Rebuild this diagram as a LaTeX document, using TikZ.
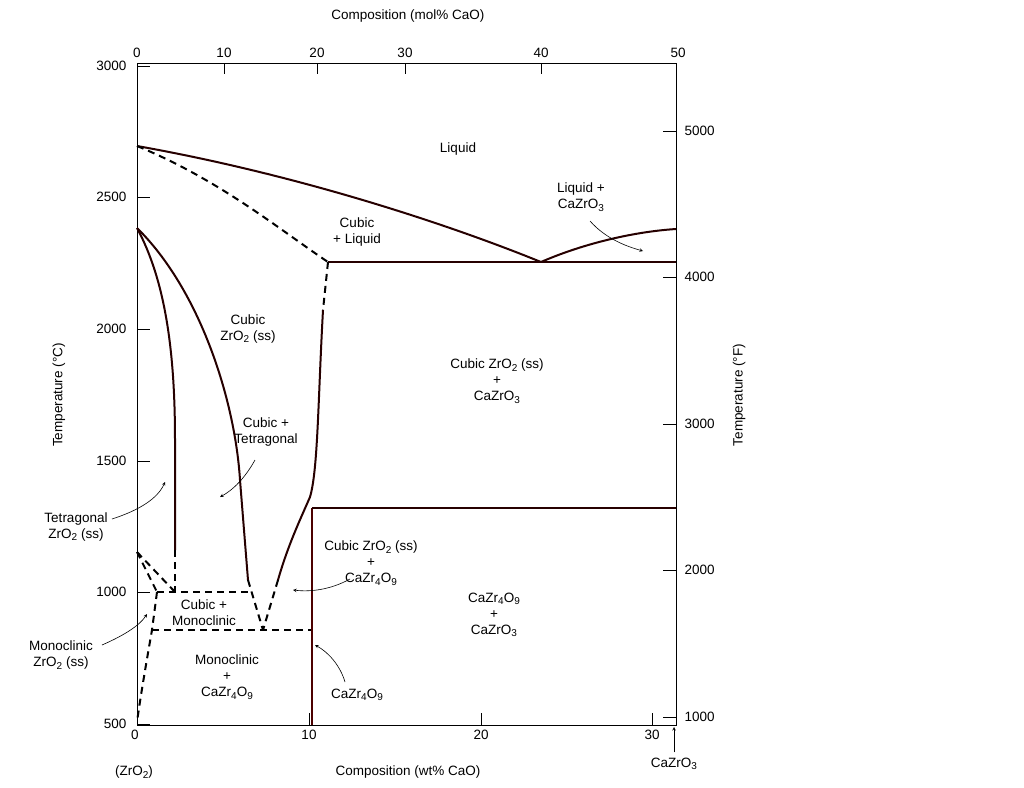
\documentclass[tikz,border=0pt]{standalone}
\usepackage{fontspec}
\setmainfont{Liberation Sans}
\newcommand{\sbs}[1]{\raisebox{-0.35ex}{\fontsize{10}{10}\selectfont #1}}
\begin{document}
\begin{tikzpicture}[x=1pt,y=-1pt,
  ln/.style={line width=2pt,color=black!85!red},
  dsh/.style={line width=2pt,dash pattern=on 7pt off 5pt},
  ax/.style={line width=1pt},
  lab/.style={font=\fontsize{13.5}{16}\selectfont,align=center},
  ann/.style={line width=0.6pt,-stealth}]
\useasboundingbox (0,0) rectangle (1024,787);
% frame
\draw[ax] (137,63) -- (137,725) -- (676,725) -- (676,63);
\draw[ax] (137,63) -- (676,63);
\foreach \y/\t in {66/3000,197/2500,329/2000,461/1500,592/1000,724/500}{
  \draw[ax] (137,\y) -- (150,\y); \node[lab,anchor=east] at (130,\y) {\t};}
\foreach \y/\t in {131/5000,277/4000,424/3000,570/2000,717/1000}{
  \draw[ax] (676,\y) -- (663,\y); \node[lab,anchor=west] at (681,\y) {\t};}
\foreach \x/\t in {137/0,224/10,317/20,405/30,541/40}{
  \draw[ax] (\x,63) -- (\x,74); \node[lab,anchor=south] at (\x,61) {\t};}
\node[lab,anchor=south] at (678,61) {50};
\foreach \x/\t in {309/10,481/20,652/30}{
  \draw[ax] (\x,725) -- (\x,713); \node[lab,anchor=north] at (\x,727) {\t};}
\node[lab,anchor=north] at (135,727) {0};
\node[lab] (tt) at (408,16) {Composition (mol\% CaO)};
\node[lab] (bt) at (408,772) {Composition (wt\% CaO)};
\node[lab] (zr) at (134,772) {(ZrO\sbs{2})};
\node[lab] (cz) at (674,764) {CaZrO\sbs{3}};
\draw[ann] (cz.north) ++(0,-2) -- (674,727);
\node[lab,rotate=90] (yl) at (59,395) {Temperature (°C)};
\node[lab,rotate=90] (yr) at (739,395) {Temperature (°F)};
% phase lines
\draw[ln] (137,146) .. controls (300,175) and (450,225) .. (541,262);
\draw[ln] (541,262) .. controls (580,245) and (630,232) .. (676,229);
\draw[ln] (328,262) -- (676,262);
\draw[dsh] (137,146) .. controls (220,180) and (280,230) .. (328,262);
\draw[dsh] (328,262) -- (323,310);
\draw[ln] (323,310) .. controls (318,400) and (318,470) .. (310,497) .. controls (300,520) and (288,545) .. (278,580);
\draw[dsh] (278,580) -- (263,630);
\draw[ln] (137,228) .. controls (200,290) and (235,400) .. (240,480) -- (248,580);
\draw[dsh] (248,580) -- (263,630);
\draw[ln] (137,228) .. controls (165,280) and (175,350) .. (175,440) -- (175,550);
\draw[dsh] (175,550) -- (175,592);
\draw[dsh] (137,552) -- (175,592);
\draw[dsh] (137,552) -- (157,592);
\draw[dsh] (157,592) -- (248,592);
\draw[dsh] (157,592) -- (152,630) .. controls (145,670) and (140,700) .. (137,722);
\draw[dsh] (152,630) -- (312,630);
\draw[ln,color=black!70!red] (312,508) -- (312,725);
\draw[ln] (312,508) -- (676,508);
% labels
\node[lab] (liq) at (458,149) {Liquid};
\node[lab] (lc) at (581,197) {Liquid +\\CaZrO\sbs{3}};
\node[lab] (cl) at (357,232) {Cubic\\+ Liquid};
\node[lab] (cz1) at (248,329) {Cubic\\ZrO\sbs{2} (ss)};
\node[lab] (cc) at (497,381) {Cubic ZrO\sbs{2} (ss)\\+\\CaZrO\sbs{3}};
\node[lab] (ct) at (266,432) {Cubic +\\Tetragonal};
\node[lab] (tz) at (76,527) {Tetragonal\\ZrO\sbs{2} (ss)};
\node[lab] (cc4) at (371,563) {Cubic ZrO\sbs{2} (ss)\\+\\CaZr\sbs{4}O\sbs{9}};
\node[lab] (c4c) at (494,615) {CaZr\sbs{4}O\sbs{9}\\+\\CaZrO\sbs{3}};
\node[lab] (cm) at (204,613) {Cubic +\\Monoclinic};
\node[lab] (mz) at (61,655) {Monoclinic\\ZrO\sbs{2} (ss)};
\node[lab] (mc) at (227,677) {Monoclinic\\+\\CaZr\sbs{4}O\sbs{9}};
\node[lab] (c49) at (357,695) {CaZr\sbs{4}O\sbs{9}};
% annotation arrows
\draw[ann] (590,221) .. controls (605,238) and (625,246) .. (643,251);
\draw[ann] (112,519) .. controls (140,510) and (158,498) .. (165,482);
\draw[ann] (255,460) .. controls (245,478) and (233,490) .. (220,497);
\draw[ann] (350,579) .. controls (330,590) and (310,592) .. (293,590);
\draw[ann] (102,645) .. controls (125,635) and (140,625) .. (147,614);
\draw[ann] (345,682) .. controls (340,665) and (328,652) .. (315,645);
\end{tikzpicture}
\end{document}
